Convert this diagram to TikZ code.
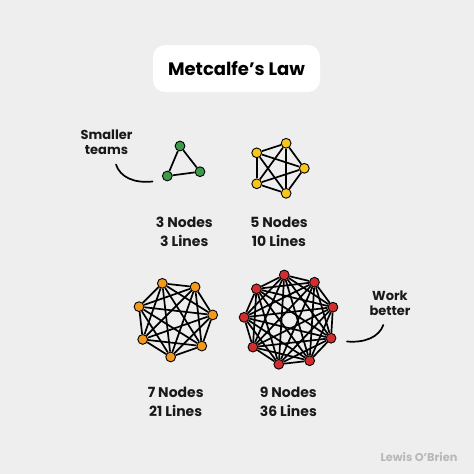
\documentclass[tikz,border=0pt]{standalone}
\usepackage{fontspec}
\setmainfont{Poppins}
\usetikzlibrary{backgrounds,calc}
\pgfdeclarelayer{edges}
\pgfsetlayers{background,edges,main}
\definecolor{bgc}{HTML}{EEEEEE}
\definecolor{cgreen}{HTML}{3C9A4B}
\definecolor{cyellow}{HTML}{F6C619}
\definecolor{corange}{HTML}{F39A1E}
\definecolor{cred}{HTML}{D12F2F}
\definecolor{credit}{HTML}{B8B8B8}
\tikzset{
  vtx/.style={circle, draw=black, line width=0.9pt, minimum size=9.8pt, inner sep=0pt},
  edge/.style={line width=1.7pt, black},
  lbl/.style={font=\bfseries\fontsize{14}{19}\selectfont, align=center, text=black!90},
  hand/.style={font=\bfseries\fontsize{13}{15.5}\selectfont, align=center, text=black!90},
  pointer/.style={line width=1.7pt, black, line cap=round},
}
\begin{document}
\begin{tikzpicture}[x=1pt,y=-1pt]
\begin{pgfonlayer}{background}
\fill[bgc] (0,0) rectangle (474,474);
\end{pgfonlayer}
\useasboundingbox (0,0) rectangle (474,474);
% title
\node[fill=white, rounded corners=12pt, minimum width=167pt, minimum height=47pt,
      font=\bfseries\fontsize{18}{20}\selectfont] (title) at (236.5,68.5) {Metcalfe’s Law};
% triangle
\node[vtx, fill=cgreen] (t1) at (180,146) {};
\node[vtx, fill=cgreen] (t2) at (200,171.7) {};
\node[vtx, fill=cgreen] (t3) at (167.3,176) {};
\begin{pgfonlayer}{edges}
\draw[edge] (t1)--(t2) (t2)--(t3) (t3)--(t1);
\end{pgfonlayer}
% pentagon
\foreach \i in {1,...,5}{
  \pgfmathsetmacro\ang{-(\i-1)*72}
  \node[vtx, fill=cyellow] (p\i) at ($(278,168.3)+(\ang:26.3pt)$) {};
}
% heptagon
\foreach \i in {1,...,7}{
  \pgfmathsetmacro\ang{-96.4+(\i-1)*51.4286}
  \node[vtx, fill=corange] (h\i) at ($(174.9,319.2)+(\ang:38pt)$) {};
}
% nonagon
\foreach \i in {1,...,9}{
  \pgfmathsetmacro\ang{96.5+(\i-1)*40}
  \node[vtx, fill=cred] (n\i) at ($(289.4,320.1)+(\ang:45.4pt)$) {};
}
\begin{pgfonlayer}{edges}
\foreach \i in {1,...,4}{
  \pgfmathtruncatemacro\nx{\i+1}
  \foreach \j in {\nx,...,5}{ \draw[edge] (p\i)--(p\j); }
}
\foreach \i in {1,...,6}{
  \pgfmathtruncatemacro\nx{\i+1}
  \foreach \j in {\nx,...,7}{ \draw[edge] (h\i)--(h\j); }
}
\foreach \i in {1,...,8}{
  \pgfmathtruncatemacro\nx{\i+1}
  \foreach \j in {\nx,...,9}{ \draw[edge] (n\i)--(n\j); }
}
\end{pgfonlayer}
% labels
\node[lbl] (l3) at (184.3,231.5) {3 Nodes\\3 Lines};
\node[lbl] (l5) at (279,231.5) {5 Nodes\\10 Lines};
\node[lbl] (l7) at (175.7,401.5) {7 Nodes\\21 Lines};
\node[lbl] (l9) at (288.3,401.5) {9 Nodes\\36 Lines};
% annotations
\node[hand] (small) at (106.5,142) {Smaller\\teams};
\coordinate (sa) at (116,164.5);
\coordinate (sb) at (152.5,181.5);
\draw[pointer] (sa) .. controls (120,177) and (134,183.5) .. (sb);
\node[hand] (work) at (390,303) {Work\\better};
\coordinate (wa) at (383.3,325);
\coordinate (wb) at (347,341.5);
\draw[pointer] (wa) .. controls (379,337) and (365,343) .. (wb);
% credit
\node[font=\bfseries\fontsize{11.3}{12}\selectfont, text=credit] (credit) at (419,457.3) {Lewis O’Brien};
\end{tikzpicture}
\end{document}
